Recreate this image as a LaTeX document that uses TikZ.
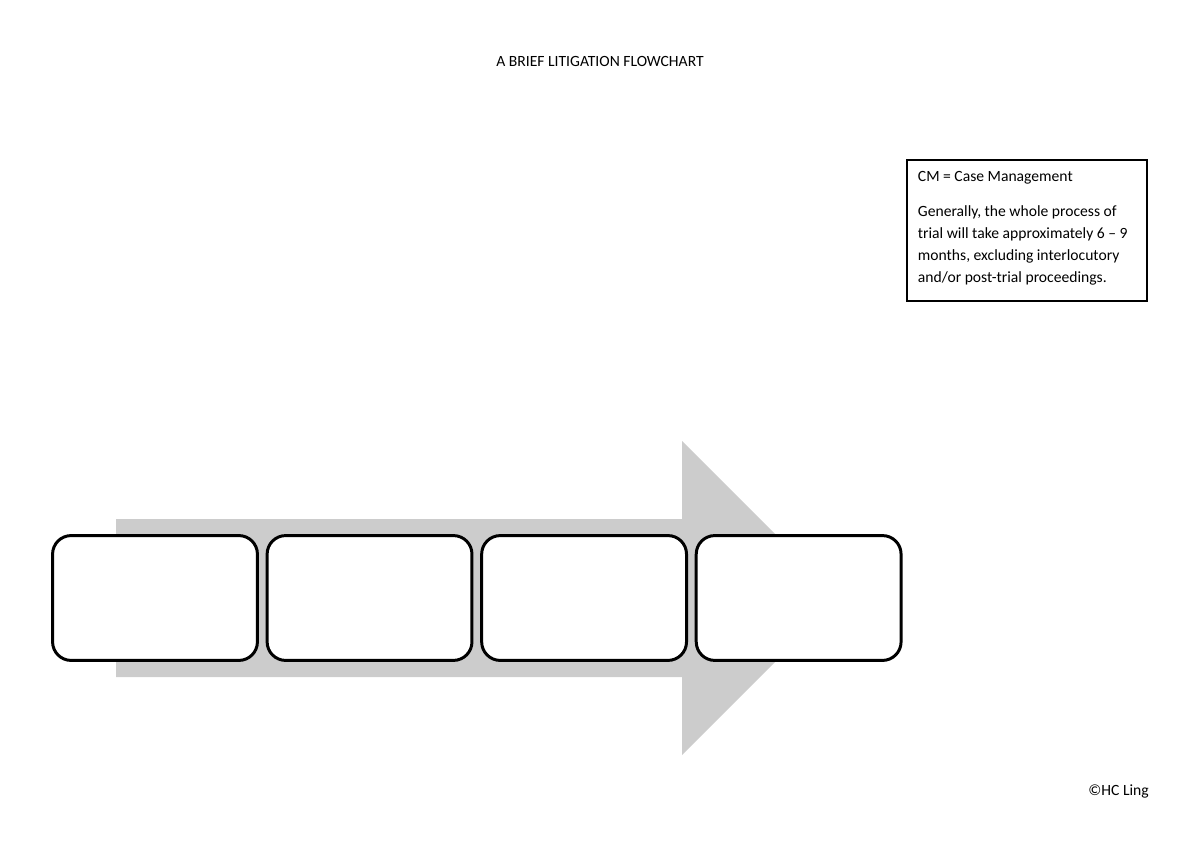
\documentclass[tikz,border=0pt]{standalone}
\usepackage{fontspec}
\setmainfont{Carlito}
\usetikzlibrary{positioning}

\tikzset{
    stagebox/.style={draw, line width=2.1pt, fill=white, rounded corners=4.6mm,
        minimum width=50.7mm, minimum height=30.9mm, outer sep=0pt},
    notebox/.style={draw, line width=1.3pt, align=flush left, text width=153.5pt,
        inner xsep=7.7pt, inner ysep=0pt, outer sep=0pt,
        font=\fontsize{11pt}{15.6pt}\selectfont},
}

\begin{document}
\begin{tikzpicture}[x=0.2475mm, y=-0.2475mm]
    \useasboundingbox (0, 0) rectangle (1200, 848);

    % Title
    \node[anchor=base, font=\fontsize{11pt}{13pt}\selectfont] (title) at (600, 67) {A BRIEF LITIGATION FLOWCHART};

    % Note
    \node[notebox, anchor=north west] (note) at (907, 160)
        {\rule{0pt}{15.4pt}CM = Case Management\\[8.5pt]
         Generally, the whole process of\\
         trial will take approximately 6 -- 9\\
         months, excluding interlocutory\\
         and/or post-trial proceedings.\rule[-13pt]{0pt}{13pt}};

    % Big arrow
    \fill[black!20] (116, 519) -- (682, 519) -- (682, 441) -- (839, 598)
        -- (682, 755) -- (682, 677) -- (116, 677) -- cycle;

    % Stages
    \node[stagebox] (stage1) at (155, 598) {};
    \node[stagebox, right=2.4mm of stage1] (stage2) {};
    \node[stagebox, right=2.4mm of stage2] (stage3) {};
    \node[stagebox, right=2.4mm of stage3] (stage4) {};

    % Credit
    \node[anchor=base east, inner sep=0pt, font=\fontsize{11pt}{13pt}\selectfont] (credit) at (1149, 795) {©HC Ling};
\end{tikzpicture}
\end{document}
